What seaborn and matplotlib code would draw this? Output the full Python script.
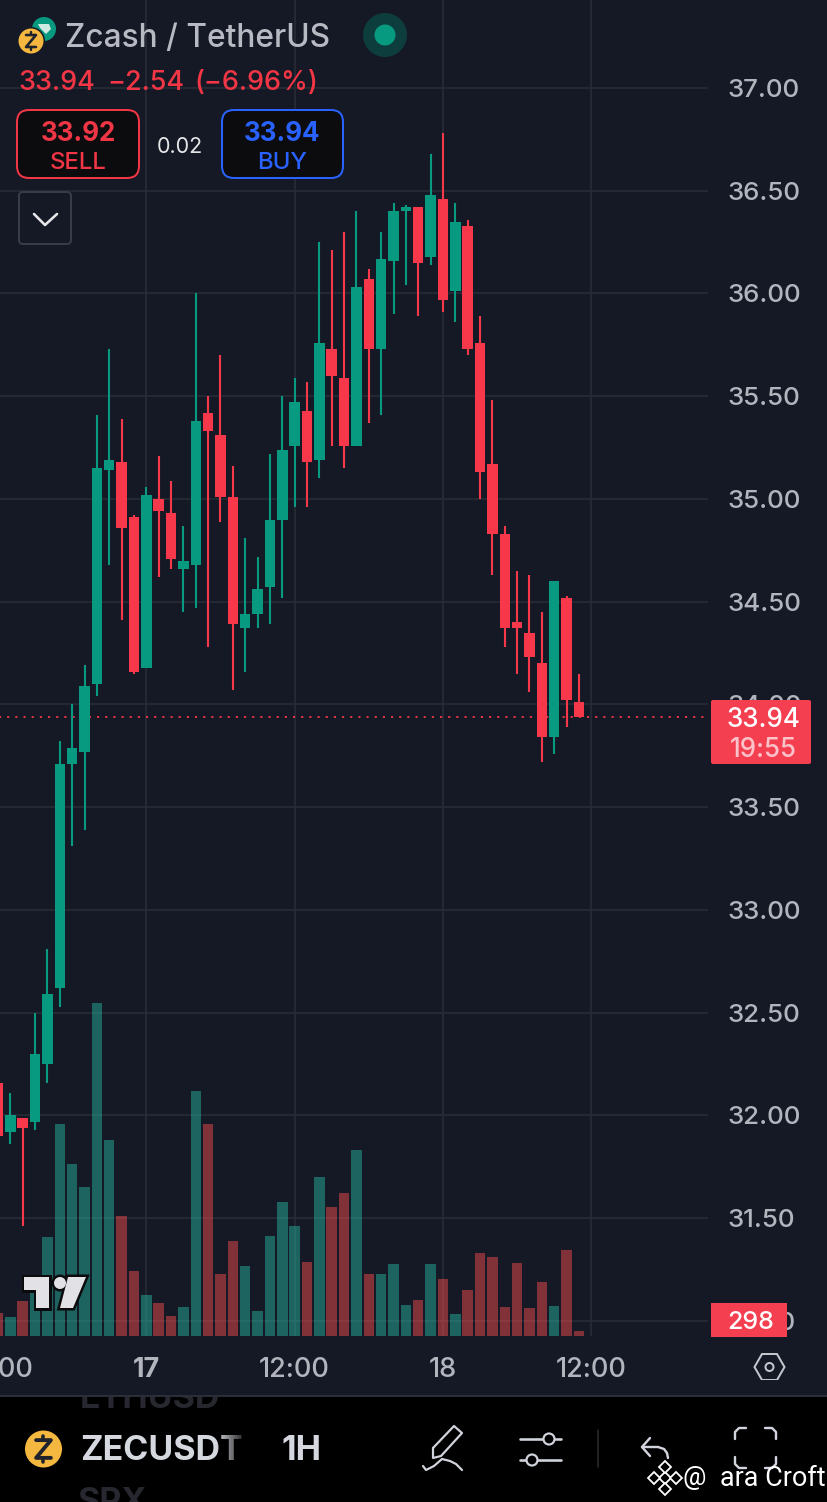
import numpy as np
import pandas as pd
import matplotlib
matplotlib.use("Agg")
import matplotlib.pyplot as plt
from matplotlib.patches import Circle, FancyBboxPatch, Polygon, Rectangle, RegularPolygon
import seaborn as sns

# Hourly ZEC/USDT candles
opens = [32.16, 31.92, 31.99, 31.97, 32.25, 32.62, 33.71, 33.77, 34.10, 35.14, 35.18, 34.91,
         34.18, 35.00, 34.93, 34.66, 34.68, 35.42, 35.31, 35.01, 34.37, 34.44, 34.57, 34.90,
         35.26, 35.43, 35.19, 35.73, 35.59, 35.26, 36.07, 35.73, 36.16, 36.40, 36.42, 36.18,
         36.46, 36.01, 36.33, 35.76, 35.17, 34.83, 34.40, 34.35, 34.20, 33.84, 34.52, 34.01]
highs = [32.20, 32.11, 31.99, 32.50, 32.81, 33.82, 34.00, 34.19, 35.41, 35.73, 35.39, 34.92,
         35.06, 35.21, 35.09, 34.87, 36.00, 35.50, 35.70, 35.16, 34.81, 34.72, 35.22, 35.50,
         35.59, 35.57, 36.25, 36.21, 36.30, 36.40, 36.12, 36.30, 36.44, 36.43, 36.42, 36.68,
         36.78, 36.44, 36.36, 35.89, 35.48, 34.87, 34.65, 34.63, 34.45, 34.60, 34.53, 34.15]
lows = [31.88, 31.86, 31.46, 31.93, 32.16, 32.53, 33.31, 33.39, 34.04, 34.68, 34.41, 34.15,
        34.18, 34.62, 34.66, 34.45, 34.47, 34.28, 34.89, 34.07, 34.16, 34.37, 34.39, 34.52,
        34.96, 34.96, 35.10, 35.26, 35.15, 35.26, 35.37, 35.41, 35.90, 36.04, 35.89, 36.14,
        35.91, 35.86, 35.70, 35.00, 34.63, 34.28, 34.15, 34.06, 33.72, 33.76, 33.89, 33.94]
closes = [31.90, 32.00, 31.94, 32.30, 32.59, 33.71, 33.79, 34.09, 35.15, 35.19, 34.86, 34.16,
          35.02, 34.94, 34.71, 34.70, 35.38, 35.33, 35.01, 34.39, 34.44, 34.56, 34.90, 35.24,
          35.47, 35.18, 35.76, 35.60, 35.26, 36.03, 35.73, 36.17, 36.40, 36.42, 36.15, 36.48,
          35.97, 36.35, 35.73, 35.13, 34.83, 34.37, 34.37, 34.23, 33.84, 34.60, 34.02, 33.94]
volumes = [1380, 1140, 2100, 2640, 5940, 12720, 10320, 8940, 19980, 11760, 7200, 3900,
           2460, 1980, 1200, 1740, 14700, 12720, 3720, 5700, 4200, 1500, 6000, 8040,
           6600, 4440, 9540, 7740, 8580, 11160, 3720, 3720, 4320, 1860, 2160, 4320,
           3420, 1320, 2760, 4980, 4740, 1740, 4380, 1680, 3240, 1800, 5160, 298]

price_ticks = [31.0, 31.5, 32.0, 32.5, 33.0, 33.5, 34.0, 34.5, 35.0, 35.5, 36.0, 36.5, 37.0]
time_ticks = [0, 12, 24, 36, 48]
time_labels = ["12:00", "17", "12:00", "18", "12:00"]
last_price = 33.94
last_volume = 298

BG = "#151925"
GRID = "#292d38"
UP = "#089981"
DOWN = "#f7384a"
TAG = "#f43f50"
LABEL = "#b2b5be"
FONT = ["Inter", "DejaVu Sans"]

sns.set_theme(style="dark")
plt.rcParams["font.family"] = FONT

W, H = 828, 1502
fig = plt.figure(figsize=(W / 100, H / 100), dpi=100, facecolor=BG)

# Price pane: y=0 px to y=1336 px, extends past the left edge of the canvas
PANE_L, PANE_R, PANE_B = -40, 708, 1336
PX_PER_UNIT = 205.5
STEP = 12.36
ax = fig.add_axes([PANE_L / W, (H - PANE_B) / H, (PANE_R - PANE_L) / W, PANE_B / H])
ax.patch.set_visible(False)
ax.set_ylim(37 - (PANE_B - 88) / PX_PER_UNIT, 37 + 88 / PX_PER_UNIT)
ax.set_xlim((PANE_L + 2) / STEP, (PANE_R + 2) / STEP)

df = pd.DataFrame({"open": opens, "high": highs, "low": lows, "close": closes, "volume": volumes})
df["hour"] = np.arange(len(df))
df["side"] = np.where(df["close"] >= df["open"], "up", "down")
colors = df["side"].map({"up": UP, "down": DOWN})

ax.grid(True, color=GRID, lw=1.1, zorder=0)
ax.set_axisbelow(True)
ax.axhline(last_price, color=DOWN, lw=1.4, ls=(0, (1.1, 3.1)), zorder=1, alpha=0.9)
ax.vlines(df["hour"], df["low"], df["high"], colors=colors, lw=1.5, zorder=2)
ax.bar(df["hour"], (df["close"] - df["open"]).abs(), bottom=df[["open", "close"]].min(axis=1),
       width=0.85, color=colors, edgecolor="none", linewidth=0, zorder=3)

# Volume histogram on its own scale, anchored to the bottom of the pane
vol_ax = ax.twinx()
vol_ax.patch.set_visible(False)
sns.barplot(data=df, x="hour", y="volume", hue="side", palette={"up": "#26ae9b", "down": "#ee4a4b"},
            hue_order=["up", "down"], native_scale=True, dodge=False, width=0.85, saturation=1,
            alpha=0.5, linewidth=0, edgecolor="none", legend=False, ax=vol_ax)
vol_ax.set_ylim(0, 80160)
vol_ax.set_xlim(ax.get_xlim())
vol_ax.set_xlabel("")
vol_ax.set_ylabel("")
vol_ax.set_yticks([])
vol_ax.grid(False)
vol_ax.tick_params(axis="x", length=0, labelbottom=False)
for side in vol_ax.spines.values():
    side.set_visible(False)

# Price scale on the right, time scale below
ax.yaxis.tick_right()
ax.set_yticks(price_ticks)
ax.set_yticklabels([f"{p:.2f}" for p in price_ticks], fontweight="medium")
ax.tick_params(axis="y", length=0, pad=14, labelsize=18.7, labelcolor=LABEL, labelright=True, labelleft=False)
ax.set_xticks(time_ticks)
ax.set_xticklabels(time_labels, fontweight="medium")
ax.tick_params(axis="x", length=0, pad=15, labelsize=19.5, labelcolor=LABEL)
ax.get_xticklabels()[1].set_fontweight("bold")
for side in ax.spines.values():
    side.set_visible(False)

# Screen furniture, positioned in canvas pixels
ui = fig.add_axes([0, 0, 1, 1], zorder=10)
ui.set_xlim(0, W)
ui.set_ylim(H, 0)
ui.axis("off")


def pt(px):
    return px * 0.72


def label(x, y, s, px, color, weight="normal", ha="center", **kw):
    return ui.text(x, y + 2.5, s, fontsize=pt(px), color=color, fontweight=weight, ha=ha,
                   va="center", **kw)


def stroke(xs, ys, px=2.0, color="#d1d4dc", **kw):
    ui.plot(xs, ys, color=color, lw=pt(px), solid_capstyle="round", solid_joinstyle="round", **kw)


def zec_badge(cx, cy, r):
    ui.add_patch(Circle((cx, cy), r, fc="#f4b73f", ec="none"))
    u = r / 12.5
    stroke([cx - 5 * u, cx + 5 * u, cx - 5 * u, cx + 5 * u],
           [cy - 6 * u, cy - 6 * u, cy + 6 * u, cy + 6 * u], 2.6 * u, "#20232c")
    stroke([cx, cx], [cy - 9 * u, cy - 6 * u], 2.4 * u, "#20232c")
    stroke([cx, cx], [cy + 6 * u, cy + 9 * u], 2.4 * u, "#20232c")


# Header
ui.add_patch(Circle((44, 29), 12, fc=UP, ec="none"))
ui.add_patch(Polygon([[38, 24], [49, 24], [51, 29], [46, 34], [40, 28]], fc="#cfe9e3", ec="none"))
ui.add_patch(Circle((31, 41), 14, fc=BG, ec="none"))
zec_badge(31, 41, 12.5)
label(65, 36, "Zcash / TetherUS", 31.7, "#b7b9c3", "medium", ha="left")
ui.add_patch(Circle((385, 35), 22, fc="#0d3d3c", ec="none"))
ui.add_patch(Circle((385, 35), 10.5, fc=UP, ec="none"))
label(18, 81, "33.94", 27, "#f23645", "medium", ha="left")
label(107, 81, "\u22122.54", 27, "#f23645", "medium", ha="left")
label(194, 81, "(\u22126.96%)", 27, "#f23645", "medium", ha="left")


def trade_box(x0, x1, edge, price, caption):
    ui.add_patch(FancyBboxPatch((x0, 110), x1 - x0, 68, boxstyle="round,pad=0,rounding_size=12",
                                fc="#0c0c0e", ec=edge, lw=pt(2)))
    mid = (x0 + x1) / 2
    label(mid, 131.5, price, 26, edge, "bold")
    label(mid, 160.5, caption, 24, edge, "medium")


trade_box(17, 139, "#f23645", "33.92", "SELL")
trade_box(222, 343, "#2962ff", "33.94", "BUY")
label(180, 144.5, "0.02", 21.5, "#e6e6e8")
ui.add_patch(FancyBboxPatch((19, 192), 52, 52, boxstyle="round,pad=0,rounding_size=4",
                            fc=BG, ec="#363c48", lw=pt(2)))
stroke([34, 45, 57], [214, 225, 214], 2.6, "#e6e6e8")

# Last-price tag and volume tag on the scale
ui.add_patch(FancyBboxPatch((711, 700), 100, 64, boxstyle="round,pad=0,rounding_size=2", fc=TAG, ec="none"))
label(763.5, 717.5, f"{last_price:.2f}", 26, "white", "medium")
label(763.5, 747.5, "19:55", 26, "#fbc3c9", "medium")
ui.add_patch(Rectangle((711, 1303), 76, 34, fc=TAG, ec="none"))
label(751, 1320, str(last_volume), 25, "white", "medium")

# Watermark logo in the lower-left of the pane
for shape in ([[24.5, 1277], [49, 1277], [49, 1308], [36, 1308], [36, 1290], [24.5, 1290]],
              [[68, 1277], [86, 1277], [73, 1308], [60, 1308]]):
    ui.add_patch(Polygon(shape, fc="#e2e2e6", ec="#0b0b0e", lw=pt(5), joinstyle="miter", zorder=5))
    ui.add_patch(Polygon(shape, fc="#e2e2e6", ec="none", zorder=6))
ui.add_patch(Circle((60, 1283), 8.5, fc="#0b0b0e", ec="none", zorder=5))
ui.add_patch(Circle((60, 1283), 6, fc="#e2e2e6", ec="none", zorder=6))

# Settings hexagon next to the time scale
ui.add_patch(RegularPolygon((769.5, 1367), 6, radius=15, orientation=np.pi / 2,
                            fc="none", ec="#c4c6ce", lw=pt(2)))
ui.add_patch(Circle((769.5, 1367), 4, fc="none", ec="#c4c6ce", lw=pt(2)))

# Bottom toolbar
ui.add_patch(Rectangle((0, 1396), W, H - 1396, fc="black", ec="none", zorder=1))
label(150, 1396, "ETHUSD", 34, "#27272f", "bold", zorder=2)
ui.add_patch(Rectangle((0, 1380), W, 15, fc=BG, ec="none", zorder=3))
ui.plot([0, W], [1395.5, 1395.5], color="#2a2e39", lw=pt(2), zorder=4)
label(112, 1501, "SPX", 34, "#27272f", "bold", zorder=2)

zec_badge(43.5, 1449, 18.5)
label(80, 1449, "ZECUSDT", 34, "#d6d8df", "bold", ha="left", zorder=4)
for k in range(14):
    ui.add_patch(Rectangle((215 + k * 2, 1428), 2, 42, fc="black", ec="none", alpha=0.06 * k, zorder=5))
label(302, 1449, "1H", 34, "#d6d8df", "bold", zorder=4)

# Toolbar icons
ICON = "#d1d4dc"
stroke([433, 454, 462, 441, 433, 433], [1448, 1426, 1433, 1456, 1458, 1448], 2.2, ICON, zorder=4)
stroke([423, 426, 434, 442, 450, 456, 462], [1466, 1470, 1466, 1459, 1461, 1464, 1470], 2.2, ICON, zorder=4)
stroke([520, 543], [1439, 1439], 2.6, ICON, zorder=4)
stroke([555, 561], [1439, 1439], 2.6, ICON, zorder=4)
stroke([520, 526], [1460, 1460], 2.6, ICON, zorder=4)
stroke([538, 561], [1460, 1460], 2.6, ICON, zorder=4)
ui.add_patch(Circle((549, 1439), 5.5, fc="black", ec=ICON, lw=pt(2.2), zorder=4))
ui.add_patch(Circle((532, 1460), 5.5, fc="black", ec=ICON, lw=pt(2.2), zorder=4))
ui.plot([598, 598], [1430, 1467], color="#2c2c30", lw=pt(1.5), zorder=4)
stroke([650, 642, 650], [1438, 1447, 1456], 2.4, ICON, zorder=4)
stroke([642, 658, 664, 667, 668], [1447, 1447, 1449, 1453, 1458], 2.4, ICON, zorder=4)
for sx, sy, cx, cy in ((735, 1428, -1, -1), (776, 1428, 1, -1), (735, 1468, -1, 1), (776, 1468, 1, 1)):
    stroke([sx, sx, sx - cx * 4, sx - cx * 11],
           [sy - cy * 11, sy - cy * 4, sy, sy], 2.4, ICON, zorder=4)

# Attribution line
ui.plot([665, 654, 676, 665, 665], [1478, 1478, 1478, 1467, 1489], "D", ms=pt(8), mfc="black",
        mec="white", mew=pt(1.8), zorder=6)
label(694, 1476, "@", 26, "white", zorder=6, family="Roboto")
label(720, 1476, "ara Croft", 27, "white", ha="left", zorder=6, family="Roboto")

fig.savefig("out.png", dpi=100, facecolor=BG)
